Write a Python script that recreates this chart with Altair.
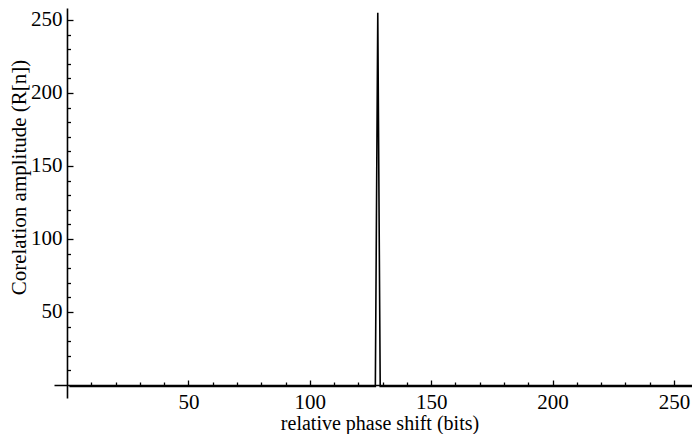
import altair as alt
import pandas as pd

# data: correlation of a 255-chip m-sequence against phase shift
shift = [1, 127, 128, 129, 259]
amp = [-1, -1, 255, -1, -1]

major_ticks = [50, 100, 150, 200, 250]
minor_x = [10, 20, 30, 40, 60, 70, 80, 90, 110, 120, 130, 140, 160, 170, 180, 190,
           210, 220, 230, 240, 260]
minor_y = [10, 20, 30, 40, 60, 70, 80, 90, 110, 120, 130, 140, 160, 170, 180, 190,
           210, 220, 230, 240]

x_title = "relative phase shift (bits)"
y_title = "Corelation amplitude (R[n])"

df = pd.DataFrame({"shift": shift, "amp": amp})

PX_PER_X = 2.428
X_DOM = [-5.35, -5.35 + 638 / PX_PER_X]
Y_DOM = [-8.9, 258.2]
W, H = 638, 390
x0 = W * (0 - X_DOM[0]) / (X_DOM[1] - X_DOM[0])
y0 = H * (Y_DOM[1] - 0) / (Y_DOM[1] - Y_DOM[0])

FONT = "Liberation Serif"
FS = 21

xs = alt.Scale(domain=X_DOM, nice=False, zero=False)
ys = alt.Scale(domain=Y_DOM, nice=False, zero=False)

base = alt.Chart(df)

main = base.mark_line(color="black", strokeWidth=1.6, clip=True).encode(
    x=alt.X("shift:Q", scale=xs, axis=alt.Axis(
        orient="bottom", values=major_ticks, format="d", ticks=False, grid=False,
        domain=True, domainColor="black", domainWidth=1.6, offset=y0 - H,
        labelPadding=6, labelFont=FONT, labelFontSize=FS, labelColor="black",
        title=x_title, titleFont=FONT, titleFontSize=20, titleFontWeight="normal",
        titleColor="black", titleX=325.5, titleY=44, titleAlign="center",
        titleBaseline="alphabetic")),
    y=alt.Y("amp:Q", scale=ys, axis=alt.Axis(
        orient="left", values=major_ticks, format="d", ticks=False, grid=False,
        domain=True, domainColor="black", domainWidth=1.6, offset=-x0,
        labelPadding=5, labelFont=FONT, labelFontSize=FS, labelColor="black",
        title=y_title, titleFont=FONT, titleFontSize=FS, titleFontWeight="normal",
        titleColor="black", titleX=-41, titleY=169, titleAngle=-90,
        titleAlign="center", titleBaseline="alphabetic")),
)


def tick_layer(xv, yv, xlen, ylen):
    return base.mark_line(opacity=0).encode(
        x=alt.X("shift:Q", scale=xs, axis=alt.Axis(
            orient="top", values=xv, labels=False, domain=False, grid=False,
            ticks=True, tickSize=xlen, tickColor="black", tickWidth=1.3,
            offset=-y0, title=None)),
        y=alt.Y("amp:Q", scale=ys, axis=alt.Axis(
            orient="right", values=yv, labels=False, domain=False, grid=False,
            ticks=True, tickSize=ylen, tickColor="black", tickWidth=1.3,
            offset=x0 - W, title=None)),
    )


chart = alt.layer(
    main,
    tick_layer(major_ticks, major_ticks, 5, 6),
    tick_layer(minor_x, minor_y, 3, 3.5),
).resolve_axis(x="independent", y="independent").properties(
    width=W, height=H,
    padding={"left": 46, "top": 0, "right": 0, "bottom": 36},
    autosize=alt.AutoSizeParams(type="none"),
    background="white",
).configure_view(stroke=None)

chart.save("out.html", embed_options={"renderer": "svg", "actions": False})
